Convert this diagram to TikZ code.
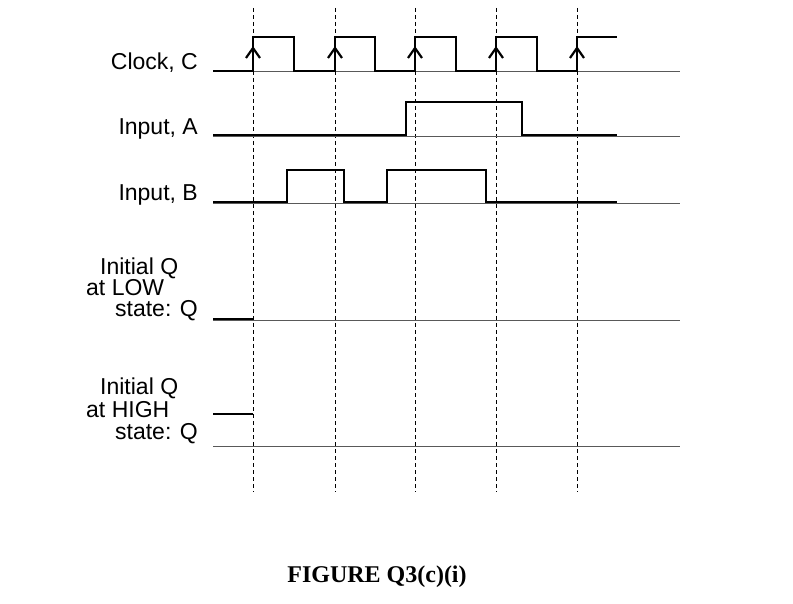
\documentclass[tikz,border=0pt]{standalone}
\usepackage{fontspec}
\setmainfont{Liberation Sans}
\newfontfamily\capfont{Liberation Serif}
\begin{document}
\begin{tikzpicture}[x=1pt,y=-1pt,
  sig/.style={line width=2.8pt,line join=miter},
  base/.style={line width=0.7pt,gray!70!black},
  grid/.style={line width=0.7pt,dash pattern=on 4pt off 3pt},
  lab/.style={anchor=east,font=\fontsize{23}{26}\selectfont,inner sep=0pt},
  tip/.style={line width=2.2pt}]
\useasboundingbox (0,0) rectangle (793,604);
\foreach \x in {253,335,415,496,577} \draw[grid] (\x,8) -- (\x,492);
\foreach \y in {71,136,203,320,446} \draw[base] (213,\y) -- (680,\y);
% clock
\draw[sig] (213,71) -- (253,71) -- (253,37) -- (294,37) -- (294,71) -- (335,71) -- (335,37) -- (375,37) -- (375,71) -- (415,71) -- (415,37) -- (456,37) -- (456,71) -- (496,71) -- (496,37) -- (537,37) -- (537,71) -- (577,71) -- (577,37) -- (617,37);
\foreach \x in {253,335,415,496,577} \draw[tip] (\x-7,58) -- (\x,48) -- (\x+7,58);
% A
\draw[sig] (213,135) -- (406,135) -- (406,102) -- (522,102) -- (522,135) -- (617,135);
% B
\draw[sig] (213,202) -- (287,202) -- (287,170) -- (344,170) -- (344,202) -- (387,202) -- (387,170) -- (486,170) -- (486,202) -- (617,202);
% Q
\draw[sig] (213,319) -- (253,319);
\draw[sig] (213,414) -- (253,414);
\node[lab] (lc) at (198,63) {Clock, C};
\node[lab] (la) at (198,129) {Input, A};
\node[lab] (lb) at (198,195) {Input, B};
\node[lab,anchor=west] (q1a) at (100,268) {Initial Q};
\node[lab,anchor=west] (q1b) at (86,288) {at LOW};
\node[lab] (q1c) at (198,311) {state: Q};
\node[lab,anchor=west] (q2a) at (100,388) {Initial Q};
\node[lab,anchor=west] (q2b) at (86,410) {at HIGH};
\node[lab] (q2c) at (198,434) {state: Q};
\node[font=\capfont\bfseries\fontsize{24}{28}\selectfont] (cap) at (377,577) {FIGURE Q3(c)(i)};
\end{tikzpicture}
\end{document}
